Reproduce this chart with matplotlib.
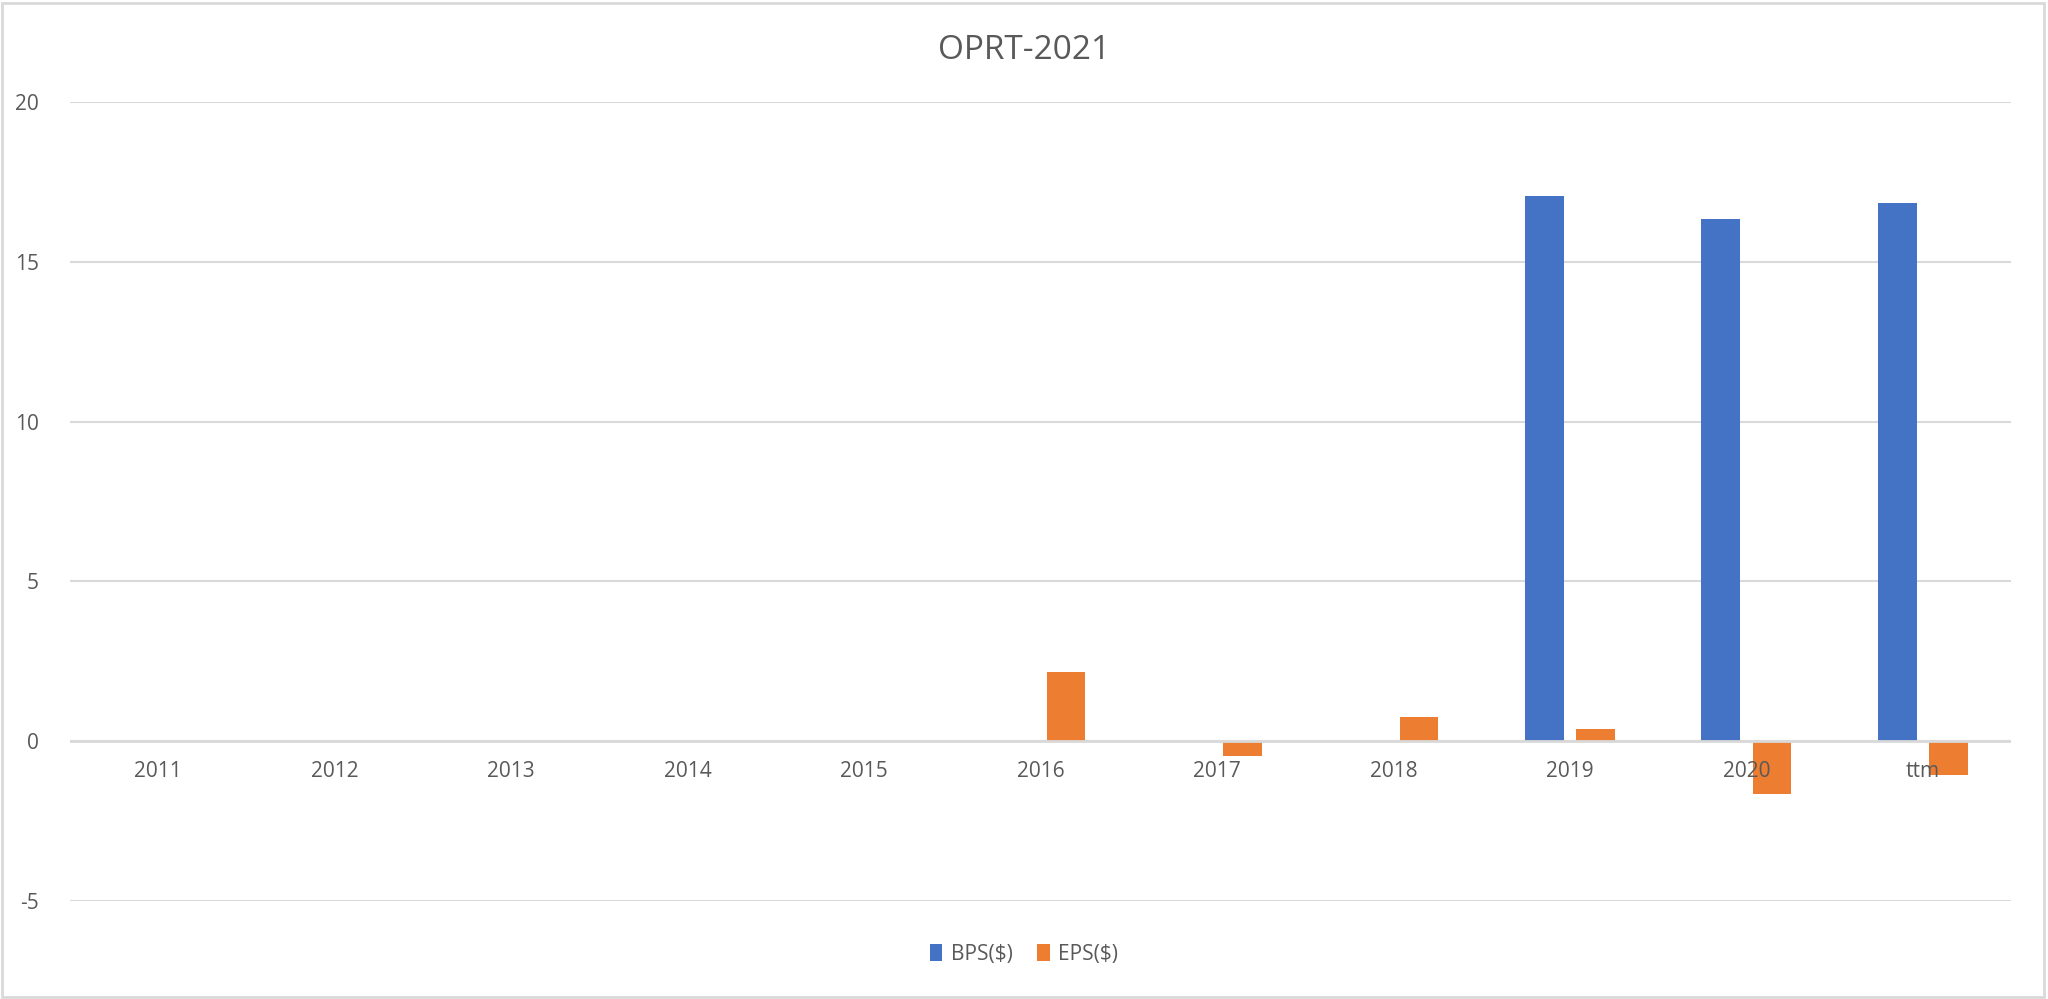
import matplotlib.pyplot as plt
import numpy as np
from matplotlib.patches import Rectangle

# 数据
categories = ["2011", "2012", "2013", "2014", "2015", "2016",
              "2017", "2018", "2019", "2020", "ttm"]
bps = [0, 0, 0, 0, 0, 0, 0, 0, 17.05, 16.35, 16.83]
eps = [0, 0, 0, 0, 0, 2.18, -0.47, 0.75, 0.39, -1.65, -1.06]
y_ticks = [-5, 0, 5, 10, 15, 20]

plt.rcParams["font.family"] = ["Open Sans", "DejaVu Sans"]
text_color = "#595959"
grid_color = "#d9d9d9"

fig = plt.figure(figsize=(20.48, 9.99), dpi=100)
ax = fig.add_axes([0.034, 0.098, 0.948, 0.8])

x = np.arange(len(categories))
width = 0.22
ax.bar(x - 0.145, bps, width, color="#4472C4", label="BPS($)", zorder=3)
ax.bar(x + 0.145, eps, width, color="#ED7D31", label="EPS($)", zorder=3)

ax.set_xlim(-0.5, len(categories) - 0.5)
ax.set_ylim(-5, 20)
ax.set_yticks(y_ticks)
ax.set_yticklabels([str(t) for t in y_ticks], color=text_color, fontsize=15)
ax.tick_params(axis="y", length=0, pad=22)
ax.set_xticks([])
ax.grid(axis="y", color=grid_color, linewidth=1.5, zorder=0)
ax.axhline(0, color=grid_color, linewidth=2, zorder=4)
for s in ax.spines.values():
    s.set_visible(False)

# 类别标签紧贴零线下方，画在柱子上面
for i, lab in enumerate(categories):
    ax.annotate(lab, (i, 0), xytext=(0, -14), textcoords="offset points",
                ha="center", va="top", color=text_color, fontsize=15, zorder=6)

fig.text(0.5, 0.949, "OPRT-2021", ha="center", va="center",
         color=text_color, fontsize=24)

fig.legend(loc="center", bbox_to_anchor=(0.5, 0.045), ncol=2, frameon=False,
           fontsize=15, labelcolor=text_color, handlelength=0.6,
           handleheight=0.9, handletextpad=0.4, columnspacing=1.2)

# 图表外框
fig.patches.append(Rectangle((0.001, 0.002), 0.997, 0.995, transform=fig.transFigure,
                             fill=False, edgecolor=grid_color, linewidth=2))

fig.savefig("out.png", dpi=100)
